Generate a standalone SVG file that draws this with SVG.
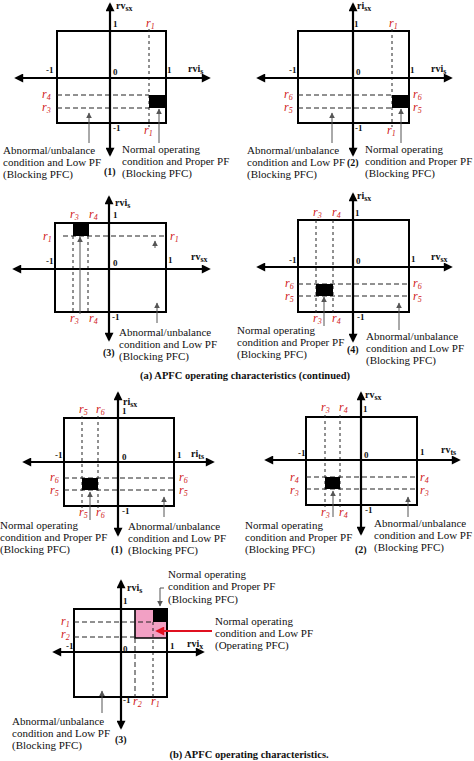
<svg xmlns="http://www.w3.org/2000/svg" width="474" height="761" viewBox="0 0 474 761">
<defs>
<marker id="ah" viewBox="0 0 10 10" refX="8" refY="5" markerUnits="userSpaceOnUse" markerWidth="10" markerHeight="9" orient="auto-start-reverse"><path d="M0,0 L10,5 L0,10 z" fill="#000"/></marker>
<marker id="ph" viewBox="0 0 10 10" refX="9" refY="5" markerUnits="userSpaceOnUse" markerWidth="6" markerHeight="6" orient="auto"><path d="M0,0 L10,5 L0,10 z" fill="#555"/></marker>
<marker id="rh" viewBox="0 0 10 10" refX="8" refY="5" markerUnits="userSpaceOnUse" markerWidth="10" markerHeight="9" orient="auto"><path d="M0,0 L10,5 L0,10 z" fill="#e01020"/></marker>
<style>
.box{fill:none;stroke:#000;stroke-width:2}
.ax{stroke:#000;stroke-width:2.2;marker-start:url(#ah);marker-end:url(#ah)}
.dh{stroke:#222;stroke-width:1;stroke-dasharray:5 3;fill:none}
.dv{stroke:#222;stroke-width:1;stroke-dasharray:3 3;fill:none}
.blk{fill:#000}
.ptr{stroke:#555;stroke-width:1;fill:none;marker-end:url(#ph)}
text{font-family:"Liberation Serif","Times New Roman",serif;fill:#111}
.t{font-size:11px}
.n{font-size:9px;font-weight:bold}
.al{font-size:10px;font-weight:bold}
.sb{font-size:8px}
.r{font-size:12px;font-style:italic;fill:#d02020}
.rs{font-size:8px}
.pn{font-size:10px;font-weight:bold}
.cap{font-size:10.5px;font-weight:bold;text-anchor:middle}
</style>
</defs>

<!-- Panel a1 -->
<g id="panel-a1">
<rect class="box" x="57" y="31" width="109" height="92"/>
<line class="dv" x1="149" y1="29" x2="149" y2="127"/>
<line class="dh" x1="57" y1="95" x2="149" y2="95"/>
<line class="dh" x1="57" y1="108" x2="149" y2="108"/>
<rect class="blk" x="149" y="95" width="17" height="13"/>
<line class="ax" x1="110" y1="155" x2="110" y2="4"/>
<line class="ax" x1="16" y1="78" x2="209" y2="78"/>
<text class="al" x="116" y="9">rv<tspan class="sb" dy="2">sx</tspan></text>
<text class="al" x="188" y="72">rvi<tspan class="sb" dy="2">s</tspan></text>
<text class="n" x="113" y="27">1</text>
<text class="n" x="46" y="73">-1</text>
<text class="n" x="113" y="75">0</text>
<text class="n" x="167" y="73">1</text>
<text class="n" x="113" y="131">-1</text>
<text class="r" x="146" y="27">r<tspan class="rs" dy="2">1</tspan></text>
<text class="r" x="144" y="134">r<tspan class="rs" dy="2">1</tspan></text>
<text class="r" x="42" y="98">r<tspan class="rs" dy="2">4</tspan></text>
<text class="r" x="42" y="111">r<tspan class="rs" dy="2">3</tspan></text>
<text class="t" x="3" y="154">Abnormal/unbalance</text>
<text class="t" x="3" y="166">condition and Low PF</text>
<text class="t" x="3" y="178">(Blocking PFC)</text>
<text class="t" x="122" y="153">Normal operating</text>
<text class="t" x="122" y="165">condition and Proper PF</text>
<text class="t" x="122" y="177">(Blocking PFC)</text>
<text class="pn" x="104" y="175">(1)</text>
</g>

<!-- Panel a2 -->
<g id="panel-a2">
<rect class="box" x="298" y="31" width="111" height="92"/>
<line class="dv" x1="392" y1="29" x2="392" y2="127"/>
<line class="dh" x1="298" y1="95" x2="392" y2="95"/>
<line class="dh" x1="298" y1="108" x2="392" y2="108"/>
<rect class="blk" x="392" y="95" width="17" height="13"/>
<line class="ax" x1="353" y1="155" x2="353" y2="4"/>
<line class="ax" x1="258" y1="78" x2="451" y2="78"/>
<text class="al" x="357" y="9">ri<tspan class="sb" dy="2">sx</tspan></text>
<text class="al" x="431" y="72">rvi<tspan class="sb" dy="2">s</tspan></text>
<text class="n" x="354" y="27">1</text>
<text class="n" x="289" y="73">-1</text>
<text class="n" x="356" y="75">0</text>
<text class="n" x="410" y="73">1</text>
<text class="n" x="355" y="131">-1</text>
<text class="r" x="389" y="27">r<tspan class="rs" dy="2">1</tspan></text>
<text class="r" x="387" y="134">r<tspan class="rs" dy="2">1</tspan></text>
<text class="r" x="284" y="98">r<tspan class="rs" dy="2">6</tspan></text>
<text class="r" x="284" y="111">r<tspan class="rs" dy="2">5</tspan></text>
<text class="r" x="413" y="98">r<tspan class="rs" dy="2">6</tspan></text>
<text class="r" x="413" y="111">r<tspan class="rs" dy="2">5</tspan></text>
<text class="t" x="247" y="154">Abnormal/unbalance</text>
<text class="t" x="247" y="166">condition and Low PF</text>
<text class="t" x="247" y="178">(Blocking PFC)</text>
<text class="t" x="365" y="153">Normal operating</text>
<text class="t" x="365" y="165">condition and Proper PF</text>
<text class="t" x="365" y="177">(Blocking PFC)</text>
<text class="pn" x="347" y="166">(2)</text>
</g>

<!-- Panel a3 -->
<g id="panel-a3">
<rect class="box" x="55" y="223" width="111" height="89"/>
<line class="dh" x1="63" y1="236" x2="166" y2="236"/>
<line class="dv" x1="73" y1="236" x2="73" y2="314"/>
<line class="dv" x1="88" y1="236" x2="88" y2="314"/>
<rect class="blk" x="73" y="223" width="16" height="13"/>
<line class="ax" x1="109" y1="340" x2="109" y2="197"/>
<line class="ax" x1="14" y1="269" x2="209" y2="269"/>
<text class="al" x="115" y="206">rvi<tspan class="sb" dy="2">s</tspan></text>
<text class="al" x="191" y="260">rv<tspan class="sb" dy="2">sx</tspan></text>
<text class="n" x="113" y="218">1</text>
<text class="n" x="46" y="264">-1</text>
<text class="n" x="113" y="266">0</text>
<text class="n" x="168" y="263">1</text>
<text class="n" x="112" y="320">-1</text>
<text class="r" x="70" y="218">r<tspan class="rs" dy="2">3</tspan></text>
<text class="r" x="89" y="218">r<tspan class="rs" dy="2">4</tspan></text>
<text class="r" x="70" y="322">r<tspan class="rs" dy="2">3</tspan></text>
<text class="r" x="89" y="322">r<tspan class="rs" dy="2">4</tspan></text>
<text class="r" x="43" y="240">r<tspan class="rs" dy="2">1</tspan></text>
<text class="r" x="170" y="240">r<tspan class="rs" dy="2">1</tspan></text>
<text class="t" x="119" y="336">Abnormal/unbalance</text>
<text class="t" x="119" y="348">condition and Low PF</text>
<text class="t" x="119" y="360">(Blocking PFC)</text>
<text class="pn" x="103" y="356">(3)</text>
</g>

<!-- Panel a4 -->
<g id="panel-a4">
<rect class="box" x="298" y="220" width="111" height="92"/>
<line class="dv" x1="316" y1="220" x2="316" y2="313"/>
<line class="dv" x1="333" y1="220" x2="333" y2="313"/>
<line class="dh" x1="298" y1="284" x2="409" y2="284"/>
<line class="dh" x1="298" y1="296" x2="409" y2="296"/>
<rect class="blk" x="316" y="284" width="17" height="12"/>
<line class="ax" x1="353" y1="341" x2="353" y2="194"/>
<line class="ax" x1="258" y1="267" x2="451" y2="267"/>
<text class="al" x="357" y="199">ri<tspan class="sb" dy="2">sx</tspan></text>
<text class="al" x="431" y="260">rv<tspan class="sb" dy="2">sx</tspan></text>
<text class="n" x="355" y="216">1</text>
<text class="n" x="289" y="263">-1</text>
<text class="n" x="356" y="264">0</text>
<text class="n" x="411" y="262">1</text>
<text class="n" x="357" y="320">-1</text>
<text class="r" x="313" y="216">r<tspan class="rs" dy="2">3</tspan></text>
<text class="r" x="332" y="216">r<tspan class="rs" dy="2">4</tspan></text>
<text class="r" x="313" y="322">r<tspan class="rs" dy="2">3</tspan></text>
<text class="r" x="332" y="322">r<tspan class="rs" dy="2">4</tspan></text>
<text class="r" x="285" y="287">r<tspan class="rs" dy="2">6</tspan></text>
<text class="r" x="285" y="300">r<tspan class="rs" dy="2">5</tspan></text>
<text class="r" x="413" y="287">r<tspan class="rs" dy="2">6</tspan></text>
<text class="r" x="413" y="300">r<tspan class="rs" dy="2">5</tspan></text>
<text class="t" x="237" y="334">Normal operating</text>
<text class="t" x="237" y="346">condition and Proper PF</text>
<text class="t" x="237" y="358">(Blocking PFC)</text>
<text class="t" x="366" y="340">Abnormal/unbalance</text>
<text class="t" x="366" y="352">condition and Low PF</text>
<text class="t" x="366" y="364">(Blocking PFC)</text>
<text class="pn" x="347" y="353">(4)</text>
</g>

<text id="caption-a" class="cap" x="245" y="379">(a) APFC operating characteristics (continued)</text>

<!-- Panel b1 -->
<g id="panel-b1">
<rect class="box" x="64" y="418" width="110" height="88"/>
<line class="dv" x1="82" y1="416" x2="82" y2="508"/>
<line class="dv" x1="98" y1="416" x2="98" y2="508"/>
<line class="dh" x1="64" y1="478" x2="174" y2="478"/>
<line class="dh" x1="64" y1="490" x2="174" y2="490"/>
<rect class="blk" x="82" y="478" width="16" height="12"/>
<line class="ax" x1="118" y1="535" x2="118" y2="393"/>
<line class="ax" x1="24" y1="462" x2="213" y2="462"/>
<text class="al" x="123" y="405">ri<tspan class="sb" dy="2">sx</tspan></text>
<text class="al" x="191" y="457">ri<tspan class="sb" dy="2">ts</tspan></text>
<text class="n" x="122" y="414">1</text>
<text class="n" x="55" y="458">-1</text>
<text class="n" x="122" y="460">0</text>
<text class="n" x="177" y="458">1</text>
<text class="n" x="122" y="514">-1</text>
<text class="r" x="79" y="413">r<tspan class="rs" dy="2">5</tspan></text>
<text class="r" x="96" y="413">r<tspan class="rs" dy="2">6</tspan></text>
<text class="r" x="79" y="516">r<tspan class="rs" dy="2">5</tspan></text>
<text class="r" x="96" y="516">r<tspan class="rs" dy="2">6</tspan></text>
<text class="r" x="50" y="481">r<tspan class="rs" dy="2">6</tspan></text>
<text class="r" x="50" y="494">r<tspan class="rs" dy="2">5</tspan></text>
<text class="r" x="179" y="481">r<tspan class="rs" dy="2">6</tspan></text>
<text class="r" x="179" y="494">r<tspan class="rs" dy="2">5</tspan></text>
<text class="t" x="0" y="529">Normal operating</text>
<text class="t" x="0" y="541">condition and Proper PF</text>
<text class="t" x="0" y="553">(Blocking PFC)</text>
<text class="t" x="128" y="530">Abnormal/unbalance</text>
<text class="t" x="128" y="542">condition and Low PF</text>
<text class="t" x="128" y="554">(Blocking PFC)</text>
<text class="pn" x="111" y="553">(1)</text>
</g>

<!-- Panel b2 -->
<g id="panel-b2">
<rect class="box" x="306" y="417" width="111" height="88"/>
<line class="dv" x1="325" y1="415" x2="325" y2="507"/>
<line class="dv" x1="340" y1="415" x2="340" y2="507"/>
<line class="dh" x1="306" y1="477" x2="417" y2="477"/>
<line class="dh" x1="306" y1="489" x2="417" y2="489"/>
<rect class="blk" x="325" y="477" width="15" height="12"/>
<line class="ax" x1="361" y1="534" x2="361" y2="393"/>
<line class="ax" x1="266" y1="460" x2="459" y2="460"/>
<text class="al" x="365" y="398">rv<tspan class="sb" dy="2">sx</tspan></text>
<text class="al" x="441" y="453">rv<tspan class="sb" dy="2">ts</tspan></text>
<text class="n" x="363" y="412">1</text>
<text class="n" x="298" y="456">-1</text>
<text class="n" x="364" y="458">0</text>
<text class="n" x="420" y="455">1</text>
<text class="n" x="365" y="513">-1</text>
<text class="r" x="321" y="411">r<tspan class="rs" dy="2">3</tspan></text>
<text class="r" x="339" y="411">r<tspan class="rs" dy="2">4</tspan></text>
<text class="r" x="321" y="516">r<tspan class="rs" dy="2">3</tspan></text>
<text class="r" x="339" y="516">r<tspan class="rs" dy="2">4</tspan></text>
<text class="r" x="290" y="481">r<tspan class="rs" dy="2">4</tspan></text>
<text class="r" x="290" y="494">r<tspan class="rs" dy="2">3</tspan></text>
<text class="r" x="420" y="481">r<tspan class="rs" dy="2">4</tspan></text>
<text class="r" x="420" y="494">r<tspan class="rs" dy="2">3</tspan></text>
<text class="t" x="245" y="529">Normal operating</text>
<text class="t" x="245" y="541">condition and Proper PF</text>
<text class="t" x="245" y="553">(Blocking PFC)</text>
<text class="t" x="374" y="527">Abnormal/unbalance</text>
<text class="t" x="374" y="539">condition and Low PF</text>
<text class="t" x="374" y="551">(Blocking PFC)</text>
<text class="pn" x="355" y="553">(2)</text>
</g>

<!-- Panel b3 -->
<g id="panel-b3">
<rect x="135" y="609" width="32" height="29" fill="#f2a0c4"/>
<rect class="blk" x="153" y="609" width="14" height="13"/>
<path d="M135,609 V638 H167" stroke="#000" stroke-width="1.6" fill="none"/>
<rect class="box" x="74" y="609" width="93" height="88"/>
<line class="dh" x1="74" y1="622" x2="153" y2="622"/>
<line class="dh" x1="74" y1="637" x2="135" y2="637"/>
<line class="dh" x1="135" y1="638" x2="135" y2="697"/>
<line class="dv" x1="153" y1="622" x2="153" y2="697"/>
<line class="ax" x1="121" y1="728" x2="121" y2="581"/>
<line class="ax" x1="54" y1="652" x2="203" y2="652"/>
<text class="al" x="127" y="591">rvi<tspan class="sb" dy="2">s</tspan></text>
<text class="al" x="187" y="647">rvi<tspan class="sb" dy="2">x</tspan></text>
<text class="n" x="123" y="604">1</text>
<text class="n" x="66" y="649">-1</text>
<text class="n" x="123" y="652">0</text>
<text class="n" x="170" y="649">1</text>
<text class="n" x="123" y="703">-1</text>
<text class="r" x="61" y="625">r<tspan class="rs" dy="2">1</tspan></text>
<text class="r" x="61" y="638">r<tspan class="rs" dy="2">2</tspan></text>
<text class="r" x="133" y="705">r<tspan class="rs" dy="2">2</tspan></text>
<text class="r" x="151" y="705">r<tspan class="rs" dy="2">1</tspan></text>
<text class="t" x="168" y="578">Normal operating</text>
<text class="t" x="168" y="590">condition and Proper PF</text>
<text class="t" x="168" y="603">(Blocking PFC)</text>
<text class="t" x="215" y="625">Normal operating</text>
<text class="t" x="215" y="637">condition and Low PF</text>
<text class="t" x="215" y="649">(Operating PFC)</text>
<text class="t" x="12" y="725">Abnormal/unbalance</text>
<text class="t" x="12" y="737">condition and Low PF</text>
<text class="t" x="12" y="749">(Blocking PFC)</text>
<text class="pn" x="115" y="743">(3)</text>
</g>

<text id="caption-b" class="cap" x="249" y="758">(b) APFC operating characteristics.</text>

<g id="connectors">
<line class="ptr" x1="89" y1="143" x2="89" y2="113"/>
<line class="ptr" x1="159" y1="143" x2="159" y2="109"/>
<line class="ptr" x1="332" y1="143" x2="332" y2="113"/>
<line class="ptr" x1="401" y1="143" x2="401" y2="109"/>
<line class="ptr" x1="80" y1="314" x2="80" y2="237"/>
<line class="ptr" x1="155" y1="248" x2="155" y2="241"/>
<line class="ptr" x1="157" y1="323" x2="157" y2="303"/>
<line class="ptr" x1="324" y1="326" x2="324" y2="297"/>
<line class="ptr" x1="399" y1="330" x2="399" y2="303"/>
<line class="ptr" x1="90" y1="520" x2="90" y2="492"/>
<line class="ptr" x1="164" y1="517" x2="164" y2="497"/>
<line class="ptr" x1="333" y1="517" x2="333" y2="491"/>
<line class="ptr" x1="408" y1="517" x2="408" y2="497"/>
<line class="ptr" x1="102" y1="713" x2="102" y2="691"/>
<polyline class="ptr" points="164,588 160,588 160,606"/>
<line x1="212" y1="631" x2="157" y2="631" stroke="#e01020" stroke-width="2" marker-end="url(#rh)"/>
</g>
</svg>
